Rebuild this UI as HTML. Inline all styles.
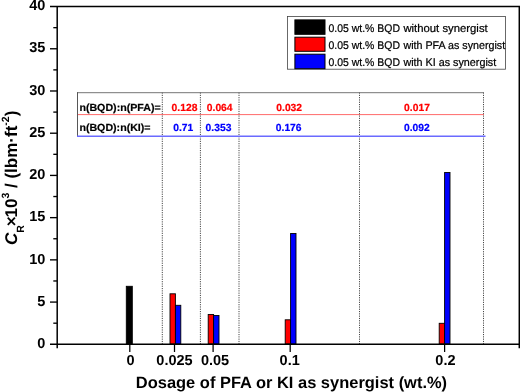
<!DOCTYPE html>
<html><head><meta charset="utf-8"><title>chart</title>
<style>
html,body{margin:0;padding:0;background:#fff;}
svg{display:block;}
text{font-family:"Liberation Sans",sans-serif;text-rendering:geometricPrecision;}
.b{font-weight:bold;}
.tk{font-weight:bold;font-size:14.5px;fill:#000;}
.tb{font-weight:bold;font-size:10.3px;stroke-width:0.2px;}
.lg{font-size:11.2px;fill:#000;stroke:#000;stroke-width:0.22px;}
</style></head><body>
<svg width="520" height="392" viewBox="0 0 520 392">
<rect x="0" y="0" width="520" height="392" fill="#fff"/>

<!-- dotted vertical lines -->
<g stroke="#222" stroke-width="0.85" stroke-dasharray="1.15 1.15" fill="none">
<line x1="162.3" y1="92.5" x2="162.3" y2="344"/>
<line x1="200.4" y1="92.5" x2="200.4" y2="344"/>
<line x1="239" y1="92.5" x2="239" y2="344"/>
<line x1="359.5" y1="92.5" x2="359.5" y2="344"/>
<line x1="483.5" y1="92.5" x2="483.5" y2="344"/>
</g>

<!-- bars -->
<g stroke="#000" stroke-width="0.9">
<rect x="126.3" y="286.3" width="6" height="57.7" fill="#000"/>
<rect x="170" y="293.8" width="5.4" height="50.2" fill="#f00"/>
<rect x="175.4" y="305.3" width="5.4" height="38.7" fill="#00f"/>
<rect x="208.2" y="314.5" width="5.4" height="29.5" fill="#f00"/>
<rect x="213.6" y="315.5" width="5.4" height="28.5" fill="#00f"/>
<rect x="285.2" y="319.8" width="5.4" height="24.2" fill="#f00"/>
<rect x="290.6" y="233.5" width="5.4" height="110.5" fill="#00f"/>
<rect x="439.2" y="323.3" width="5.4" height="20.7" fill="#f00"/>
<rect x="444.6" y="172.5" width="5.4" height="171.5" fill="#00f"/>
</g>

<!-- table -->
<line x1="77" y1="92.7" x2="484" y2="92.7" stroke="#666" stroke-width="0.9"/>
<line x1="77.5" y1="92.3" x2="77.5" y2="136.5" stroke="#444" stroke-width="0.9"/>
<line x1="78" y1="114.6" x2="484" y2="114.6" stroke="#f44" stroke-width="0.8"/>
<line x1="77" y1="136.3" x2="485.5" y2="136.3" stroke="#6a6aff" stroke-width="1.4"/>
<text class="tb" x="79.4" y="110.7" fill="#000" stroke="#000" textLength="81.3" lengthAdjust="spacingAndGlyphs">n(BQD):n(PFA)=</text>
<text class="tb" x="79.4" y="131.3" fill="#000" stroke="#000" textLength="71.2" lengthAdjust="spacingAndGlyphs">n(BQD):n(KI)=</text>
<g class="tb" fill="#f00" stroke="#f00" text-anchor="middle">
<text x="184.5" y="110.7">0.128</text>
<text x="219.7" y="110.7">0.064</text>
<text x="289.2" y="110.7">0.032</text>
<text x="417" y="110.7">0.017</text>
</g>
<g class="tb" fill="#00f" stroke="#00f" text-anchor="middle">
<text x="183.3" y="131.3">0.71</text>
<text x="218.5" y="131.3">0.353</text>
<text x="288.7" y="131.3">0.176</text>
<text x="416.8" y="131.3">0.092</text>
</g>

<!-- legend -->
<rect x="287.5" y="16.5" width="218" height="52.7" fill="#fff" stroke="#444" stroke-width="0.8"/>
<g stroke="#000" stroke-width="1">
<rect x="294.9" y="19.9" width="30.1" height="14.4" fill="#000"/>
<rect x="294.9" y="37.2" width="30.1" height="14.1" fill="#f00"/>
<rect x="294.9" y="54.2" width="30.1" height="14.5" fill="#00f"/>
</g>
<g class="lg">
<text x="328.5" y="31.7" textLength="71.5" lengthAdjust="spacingAndGlyphs">0.05 wt.% BQD</text>
<text x="403.4" y="31.7" textLength="84.3" lengthAdjust="spacingAndGlyphs">without synergist</text>
<text x="328.5" y="48.7" textLength="71.5" lengthAdjust="spacingAndGlyphs">0.05 wt.% BQD</text>
<text x="403.4" y="48.7" textLength="101.8" lengthAdjust="spacingAndGlyphs">with PFA as synergist</text>
<text x="328.5" y="65.7" textLength="71.5" lengthAdjust="spacingAndGlyphs">0.05 wt.% BQD</text>
<text x="403.4" y="65.7" textLength="92.8" lengthAdjust="spacingAndGlyphs">with KI as synergist</text>
</g>

<!-- axes frame -->
<g stroke="#000" stroke-width="1.5" fill="none">
<line x1="57.2" y1="6" x2="57.2" y2="348.2"/>
<line x1="519.3" y1="6" x2="519.3" y2="348.2"/>
<line x1="50" y1="6.55" x2="520" y2="6.55"/>
<line x1="50" y1="344.15" x2="520" y2="344.15"/>
</g>
<!-- y ticks -->
<g stroke="#000" stroke-width="1.35" transform="translate(0,0.15)">
<line x1="50" y1="301.93" x2="57" y2="301.93"/>
<line x1="50" y1="259.71" x2="57" y2="259.71"/>
<line x1="50" y1="217.49" x2="57" y2="217.49"/>
<line x1="50" y1="175.27" x2="57" y2="175.27"/>
<line x1="50" y1="133.06" x2="57" y2="133.06"/>
<line x1="50" y1="90.84" x2="57" y2="90.84"/>
<line x1="50" y1="48.62" x2="57" y2="48.62"/>
<line x1="53.3" y1="323.04" x2="57" y2="323.04"/>
<line x1="53.3" y1="280.82" x2="57" y2="280.82"/>
<line x1="53.3" y1="238.60" x2="57" y2="238.60"/>
<line x1="53.3" y1="196.38" x2="57" y2="196.38"/>
<line x1="53.3" y1="154.17" x2="57" y2="154.17"/>
<line x1="53.3" y1="111.95" x2="57" y2="111.95"/>
<line x1="53.3" y1="69.73" x2="57" y2="69.73"/>
<line x1="53.3" y1="27.51" x2="57" y2="27.51"/>
</g>
<!-- x ticks -->
<g stroke="#000" stroke-width="1.25">
<line x1="129.8" y1="344" x2="129.8" y2="352"/>
<line x1="174.5" y1="344" x2="174.5" y2="352"/>
<line x1="213.1" y1="344" x2="213.1" y2="352"/>
<line x1="290.2" y1="344" x2="290.2" y2="352"/>
<line x1="444.6" y1="344" x2="444.6" y2="352"/>
</g>
<!-- y tick labels -->
<g class="tk" text-anchor="end">
<text x="45.3" y="10.20">40</text>
<text x="45.3" y="52.42">35</text>
<text x="45.3" y="94.64">30</text>
<text x="45.3" y="136.86">25</text>
<text x="45.3" y="179.07">20</text>
<text x="45.3" y="221.29">15</text>
<text x="45.3" y="263.51">10</text>
<text x="45.3" y="305.73">5</text>
<text x="45.3" y="347.95">0</text>
</g>
<!-- x tick labels -->
<g class="tk" text-anchor="middle">
<text x="130.5" y="365">0</text>
<text x="174.5" y="365">0.025</text>
<text x="215" y="365">0.05</text>
<text x="289.7" y="365">0.1</text>
<text x="445.4" y="365">0.2</text>
</g>
<!-- axis labels -->
<text class="b" x="135.8" y="387.5" font-size="16.4px" fill="#000" textLength="311.3" lengthAdjust="spacingAndGlyphs">Dosage of PFA or KI as synergist (wt.%)</text>
<text class="b" transform="translate(17.3,245) rotate(-90)" font-size="17px" fill="#000"><tspan font-style="italic">C</tspan><tspan font-size="10.5px" dy="6.5">R</tspan><tspan dy="-6.5" dx="-1">×</tspan><tspan dx="-1.3">10</tspan><tspan font-size="10.5px" dy="-8">3</tspan><tspan dy="8"> / (lbm·ft</tspan><tspan font-size="10.5px" dy="-8.5">-2</tspan><tspan dy="8.5">)</tspan></text>
</svg>
</body></html>
